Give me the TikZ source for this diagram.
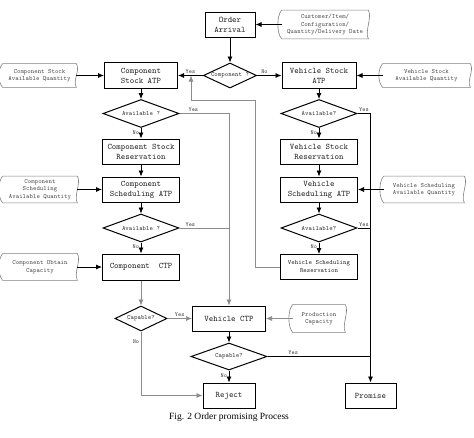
\documentclass[tikz,border=0pt]{standalone}
\usepackage{fontspec}
\newfontfamily\capfont{Liberation Serif}
\usepackage{tikz}
\usetikzlibrary{arrows.meta}
\usetikzlibrary{shapes.geometric}

\begin{document}
\begin{tikzpicture}[->,>={Latex[length=6pt,width=5pt]},x=1pt,y=1pt,line width=0.8pt]
		\tikzstyle{stepbox}=[rectangle,draw,line width=1pt,minimum width=77pt,
			minimum height=25pt,inner sep=1pt,align=center,text=black!85,
			font=\fontsize{8.5}{10}\ttfamily,node distance=38pt];
		\tikzstyle{ask}=[diamond,draw,line width=1pt,aspect=2.8,inner sep=0pt,
			minimum width=76pt,minimum height=28pt,text=black!80,
			font=\fontsize{6.5}{7}\ttfamily,node distance=38pt];
		\tikzstyle{datanode}=[rectangle,inner sep=0pt,minimum width=74pt,
			minimum height=26pt,align=center,text=black!70,
			font=\fontsize{6.5}{7.5}\ttfamily,node distance=101pt];
		\tikzstyle{datal}=[black!50,line width=0.6pt];
		\tikzstyle{lbl}=[font=\fontsize{6}{7}\ttfamily,inner sep=1.5pt,text=black!80];
		\tikzstyle{grayline}=[black!45,line width=0.7pt];

		\useasboundingbox (0,0) rectangle (474,-437);

		\node[stepbox,minimum width=50pt](arr) at (230,-24.5){Order\\Arrival};
		\node[datanode,right of=arr,node distance=95pt,minimum width=86pt,minimum height=28pt](cust){Customer/Item/\\Configuration/\\Quantity/Delivery Date};
		\node[ask,below of=arr,node distance=51pt,minimum width=51pt,minimum height=25pt](comp){Component ?};
		\node[stepbox,left of=comp,node distance=89pt,minimum width=73pt,minimum height=26pt](cstkatp){Component\\Stock ATP};
		\node[stepbox,right of=comp,node distance=89pt,minimum width=74pt,minimum height=26pt](vstkatp){Vehicle Stock\\ATP};
		\node[datanode,left of=cstkatp,node distance=101.5pt,minimum width=73pt,minimum height=23pt](cstk){Component Stock\\Available Quantity};
		\node[datanode,right of=vstkatp,node distance=107.5pt,minimum width=87pt,minimum height=23pt](vstk){Vehicle Stock\\Available Quantity};

		\node[ask,below of=cstkatp](cav1){Available ?};
		\node[stepbox,below of=cav1](cres){Component Stock\\Reservation};
		\node[stepbox,below of=cres](csatp){Component\\Scheduling ATP};
		\node[datanode,left of=csatp](csch){Component\\Scheduling\\Available Quantity};
		\node[ask,below of=csatp,node distance=38.5pt](cav2){Available ?};
		\node[stepbox,below of=cav2,node distance=39pt,minimum height=26pt](cctp){Component~~CTP};
		\node[datanode,left of=cctp](cobt){Component Obtain\\Capacity};
		\node[ask,below of=cctp,node distance=51.5pt,minimum width=52pt,minimum height=25pt](ccap){Capable?};

		\node[ask,below of=vstkatp](vav1){Available?};
		\node[stepbox,below of=vav1](vres){Vehicle Stock\\Reservation};
		\node[stepbox,below of=vres](vsatp){Vehicle\\Scheduling ATP};
		\node[datanode,right of=vsatp,node distance=105pt,minimum width=80pt](vsch){Vehicle Scheduling\\Available Quantity};
		\node[ask,below of=vsatp,node distance=38.5pt](vav2){Available?};
		\node[stepbox,below of=vav2,node distance=39pt,font=\fontsize{6.5}{8}\ttfamily](vsres){Vehicle Scheduling\\Reservation};

		\node[stepbox,right of=ccap,node distance=88pt,minimum width=73pt](vctp){Vehicle CTP};
		\node[datanode,right of=vctp,node distance=90pt,minimum width=52pt,minimum height=27pt](prod){Production\\Capacity};
		\node[ask,below of=vctp,node distance=38pt,minimum height=27pt](vcap){Capable?};
		\node[stepbox,below of=vcap,node distance=39pt,minimum width=52pt](rej){Reject};
		\node[stepbox,right of=rej,node distance=141.5pt,minimum width=51pt](prom){Promise};
		\node[below of=rej,node distance=21.5pt,font=\fontsize{9.5}{11}\capfont](cap){Fig. 2 Order promising Process};

		\foreach \d in {cust,cstk,vstk,csch,vsch,cobt,prod}
			\draw[-,datal](\d.north west)..controls +(-5pt,-6pt) and +(-5pt,6pt)..(\d.south west)--(\d.south east)
				..controls +(-4pt,7pt) and +(4pt,-7pt)..(\d.north east)--cycle;

		\draw(cust)--(arr);
		\draw(arr)--(comp);
		\draw(comp)--(cstkatp) node[lbl,above,midway]{Yes};
		\draw(comp)--(vstkatp) node[lbl,above,pos=0.3]{No};
		\draw(cstk)--(cstkatp);
		\draw(vstk)--(vstkatp);

		\draw(cstkatp)--(cav1);
		\draw(cav1)--(cres) node[lbl,left,pos=0.4]{No};
		\draw(cres)--(csatp);
		\draw(csch)--(csatp);
		\draw(csatp)--(cav2);
		\draw(cav2)--(cctp) node[lbl,left,pos=0.4]{No};
		\draw(cobt)--(cctp);
		\draw[grayline](cctp)--(ccap);
		\draw[grayline](ccap)--(vctp) node[lbl,above,midway]{Yes};
		\draw[grayline](ccap.south)|-(rej.west) node[lbl,left,pos=0.08]{No};
		\draw[grayline](cav1.east)-|(vctp.north) node[lbl,above,pos=0.14]{Yes};
		\draw[grayline,-](cav2.east)--(cav2.east-|vctp.north) node[lbl,above,pos=0.22]{Yes};

		\draw(vstkatp)--(vav1);
		\draw(vav1)--(vres) node[lbl,left,pos=0.4]{No};
		\draw(vres)--(vsatp);
		\draw(vsch)--(vsatp);
		\draw(vsatp)--(vav2);
		\draw(vav2)--(vsres) node[lbl,left,pos=0.4]{No};
		\coordinate(turn) at (255,-100);
		\coordinate(retn) at (191,-75.5);
		\draw[grayline](vsres.west)-|(turn)-|(retn);

		\draw[grayline](prod)--(vctp);
		\draw(vctp)--(vcap);
		\draw(vcap)--(rej) node[lbl,left,pos=0.4]{No};
		\draw(vav1.east)-|(prom.north) node[lbl,above,pos=0.25]{Yes};
		\draw[-](vav2.east)--(vav2.east-|prom.north) node[lbl,above,midway]{Yes};
		\draw[-](vcap.east)--(vcap.east-|prom.north) node[lbl,above,pos=0.25]{Yes};
	\end{tikzpicture}
\end{document}
